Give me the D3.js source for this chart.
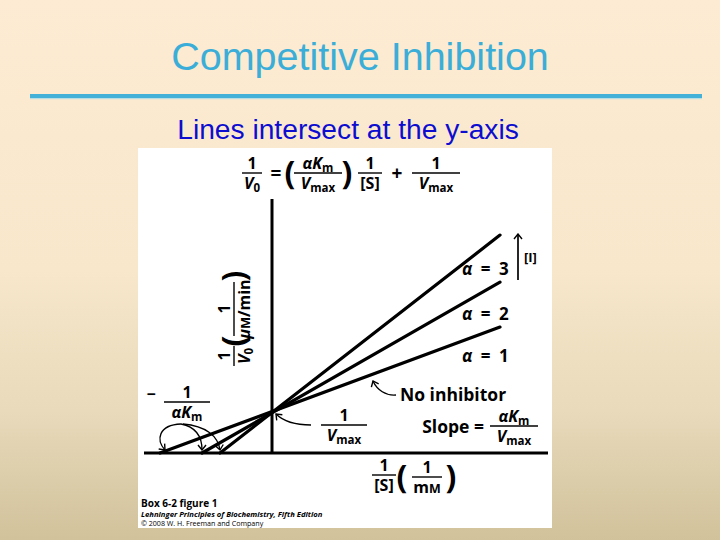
<!DOCTYPE html>
<html>
<head>
<meta charset="utf-8">
<script src="https://cdn.jsdelivr.net/npm/d3@7"></script>
<style>
  html, body { margin: 0; padding: 0; }
  svg { display: block; }
</style>
</head>
<body>
<script>
// Lineweaver-Burk lines, one per inhibitor level (alpha)
const alphas = [1, 2, 3];
const xIntercepts = [-2.8, -1.75, -1.3];   // -1/(alpha Km), in 1/[S] units
const xEnd = 5.7;                          // where the drawn lines stop
const yEnds = [3.0, 4.07, 5.19];           // 1/V0 at xEnd
const yIntercept = 1;                      // 1/Vmax
const xDomain = [-3.2, 6.9];
const yDomain = [0, 6.05];

const width = 720, height = 540;
const F = "'Open Sans', 'Noto Sans', sans-serif";

const svg = d3.select("body").append("svg")
    .attr("width", width)
    .attr("height", height);

const defs = svg.append("defs");
const grad = defs.append("linearGradient")
    .attr("id", "bg")
    .attr("x1", 0).attr("y1", 0).attr("x2", 0).attr("y2", 1);
[[0, "#fdebd3"], [0.5, "#f8e7cb"], [0.76, "#e8dabb"], [1, "#d1c29b"]]
  .forEach(([o, c]) => grad.append("stop").attr("offset", o).attr("stop-color", c));

defs.append("marker")
    .attr("id", "head")
    .attr("viewBox", "-7 -5 8 10")
    .attr("markerWidth", 8)
    .attr("markerHeight", 10)
    .attr("markerUnits", "userSpaceOnUse")
    .attr("orient", "auto")
  .append("path")
    .attr("d", "M-5,-4L0,0L-5,4")
    .attr("fill", "none")
    .attr("stroke", "#000")
    .attr("stroke-width", 1.4);

// slide background
svg.append("rect").attr("width", width).attr("height", height).attr("fill", "url(#bg)");

svg.append("text")
    .attr("x", 360).attr("y", 70)
    .attr("text-anchor", "middle")
    .attr("font-family", "'Liberation Sans', Arial, sans-serif")
    .attr("font-size", 39.5)
    .attr("fill", "#3aaed8")
    .text("Competitive Inhibition");

svg.append("rect").attr("x", 30).attr("y", 94).attr("width", 672).attr("height", 4).attr("fill", "#43b1d8");
svg.append("rect").attr("x", 30).attr("y", 98).attr("width", 672).attr("height", 1.2).attr("fill", "#b9dfe4");

svg.append("text")
    .attr("x", 348).attr("y", 139)
    .attr("text-anchor", "middle")
    .attr("font-family", "'Liberation Sans', Arial, sans-serif")
    .attr("font-size", 28.2)
    .attr("fill", "#0d0dcf")
    .text("Lines intersect at the y-axis");

// figure panel
svg.append("rect").attr("x", 138).attr("y", 148).attr("width", 414).attr("height", 380).attr("fill", "#fff");

const g = svg.append("g");

const x = d3.scaleLinear().domain(xDomain).range([144, 548]);
const y = d3.scaleLinear().domain(yDomain).range([453, 199]);

// rich text: parts are {t, i (italic), sub, sc (small caps)}
function rich(sel, px, py, parts, size, anchor) {
  const t = sel.append("text")
      .attr("x", px).attr("y", py)
      .attr("font-family", F)
      .attr("font-weight", 700)
      .attr("font-size", size)
      .attr("text-anchor", anchor || "middle");
  let off = 0;
  parts.forEach(p => {
    const s = t.append("tspan").text(p.t);
    const want = p.sub ? size * 0.22 : 0;
    if (want !== off) { s.attr("dy", want - off); off = want; }
    if (p.i) s.attr("font-style", "italic");
    if (p.sub) s.attr("font-size", size * 0.72);
    if (p.sc) s.attr("font-size", size * 0.78);
  });
  return t;
}

function frac(sel, cx, yb, num, den, size, w) {
  rich(sel, cx, yb - size * 0.26, num, size);
  rich(sel, cx, yb + size * 0.98, den, size);
  sel.append("line")
      .attr("x1", cx - w / 2).attr("x2", cx + w / 2)
      .attr("y1", yb).attr("y2", yb)
      .attr("stroke", "#000").attr("stroke-width", 1.4);
}

function paren(sel, px, cy, ch, size) {
  sel.append("text")
      .attr("x", px).attr("y", cy + size * 0.27)
      .attr("text-anchor", "middle")
      .attr("font-family", F)
      .attr("font-weight", 700)
      .attr("font-size", size)
      .text(ch);
}

const one = [{t: "1"}];
const V0 = [{t: "V", i: 1}, {t: "0", sub: 1}];
const Vmax = [{t: "V", i: 1}, {t: "max", sub: 1}];
const aKm = [{t: "α", i: 1}, {t: "K", i: 1}, {t: "m", sub: 1}];
const S = [{t: "[S]"}];

// equation on top
frac(g, 252, 173, one, V0, 16, 20);
rich(g, 276, 180, [{t: "="}], 19);
paren(g, 290, 175, "(", 32);
frac(g, 318, 173, aKm, Vmax, 16, 48);
paren(g, 347, 175, ")", 32);
frac(g, 370, 173, one, S, 16, 24);
rich(g, 397, 180, [{t: "+"}], 19);
frac(g, 436, 173, one, Vmax, 16, 48);

// axes
g.append("line")
    .attr("x1", x(0)).attr("x2", x(0))
    .attr("y1", y(yDomain[0])).attr("y2", y(yDomain[1]))
    .attr("stroke", "#000").attr("stroke-width", 3);
g.append("line")
    .attr("x1", x(xDomain[0])).attr("x2", x(xDomain[1]))
    .attr("y1", y(0)).attr("y2", y(0))
    .attr("stroke", "#000").attr("stroke-width", 3);

// the three reciprocal plots
g.selectAll("path.lb")
  .data(alphas)
  .join("path")
    .attr("class", "lb")
    .attr("d", (a, i) => d3.line()([[x(xIntercepts[i]), y(0)], [x(xEnd), y(yEnds[i])]]))
    .attr("stroke", "#000")
    .attr("stroke-width", 3.2)
    .attr("stroke-linecap", "round");

// alpha labels under the line ends
alphas.forEach((a, i) => {
  const slope = (yEnds[i] - 0) / (xEnd - xIntercepts[i]);
  const ly = y(slope * (x.invert(487) - xIntercepts[i])) + 30;
  rich(g, 462, ly, [{t: "α", i: 1}, {t: "\u2002=\u2002" + a}], 17, "start");
});

// [I] arrow
g.append("line")
    .attr("x1", 518).attr("x2", 518).attr("y1", 280).attr("y2", 234)
    .attr("stroke", "#000").attr("stroke-width", 1.7)
    .attr("marker-end", "url(#head)");
rich(g, 524, 262, [{t: "[I]"}], 13, "start");

// No inhibitor
rich(g, 400, 401, [{t: "No inhibitor"}], 17.5, "start");
g.append("path")
    .attr("d", "M396,395C386,396 377,390 373,381")
    .attr("fill", "none").attr("stroke", "#000").attr("stroke-width", 1.4)
    .attr("marker-end", "url(#head)");

// slope
rich(g, 484, 433, [{t: "Slope ="}], 17.5, "end");
frac(g, 514, 426, aKm, Vmax, 16, 48);

// 1/Vmax at the intercept
frac(g, 344, 425, one, Vmax, 16, 46);
g.append("path")
    .attr("d", `M311,425C298,425 284,422 ${x(0) + 4},${y(yIntercept) + 3}`)
    .attr("fill", "none").attr("stroke", "#000").attr("stroke-width", 1.4)
    .attr("marker-end", "url(#head)");

// -1/(alpha Km) with arrows down to each x intercept
rich(g, 151, 400, [{t: "−"}], 16);
frac(g, 187, 402, one, aKm, 16, 46);
const arcs = [
  ox => `M181,424C158,425 156,440 ${ox},${y(0) - 3}`,
  ox => `M181,424C196,427 ${ox},436 ${ox},${y(0) - 3}`,
  ox => `M183,424C206,426 ${ox - 2},436 ${ox},${y(0) - 3}`
];
alphas.forEach((a, i) => {
  g.append("path")
      .attr("d", arcs[i](x(xIntercepts[i]) + (i === 0 ? 5 : 0)))
      .attr("fill", "none").attr("stroke", "#000").attr("stroke-width", 1.3)
      .attr("marker-end", "url(#head)");
});

// axis titles
frac(g, 384, 475, one, S, 16, 24);
paren(g, 402, 479, "(", 32);
frac(g, 427, 477, one, [{t: "m"}, {t: "M", sc: 1}], 16, 30);
paren(g, 451, 479, ")", 32);

const yl = g.append("g").attr("transform", "translate(234,366) rotate(-90)");
frac(yl, 10, 0, one, V0, 16, 20);
paren(yl, 25, 2, "(", 32);
frac(yl, 57, 0, one, [{t: "μ", i: 1}, {t: "M", sc: 1}, {t: "/min"}], 16, 54);
paren(yl, 90, 2, ")", 32);

// caption
g.append("text").attr("x", 141).attr("y", 506.5)
    .attr("font-family", F).attr("font-weight", 700).attr("font-size", 10)
    .text("Box 6-2 figure 1");
g.append("text").attr("x", 141).attr("y", 517)
    .attr("font-family", F).attr("font-weight", 700).attr("font-style", "italic").attr("font-size", 7.7)
    .text("Lehninger Principles of Biochemistry, Fifth Edition");
g.append("text").attr("x", 141).attr("y", 525.5)
    .attr("font-family", F).attr("font-size", 7.1)
    .text("© 2008 W. H. Freeman and Company");
</script>
</body>
</html>
